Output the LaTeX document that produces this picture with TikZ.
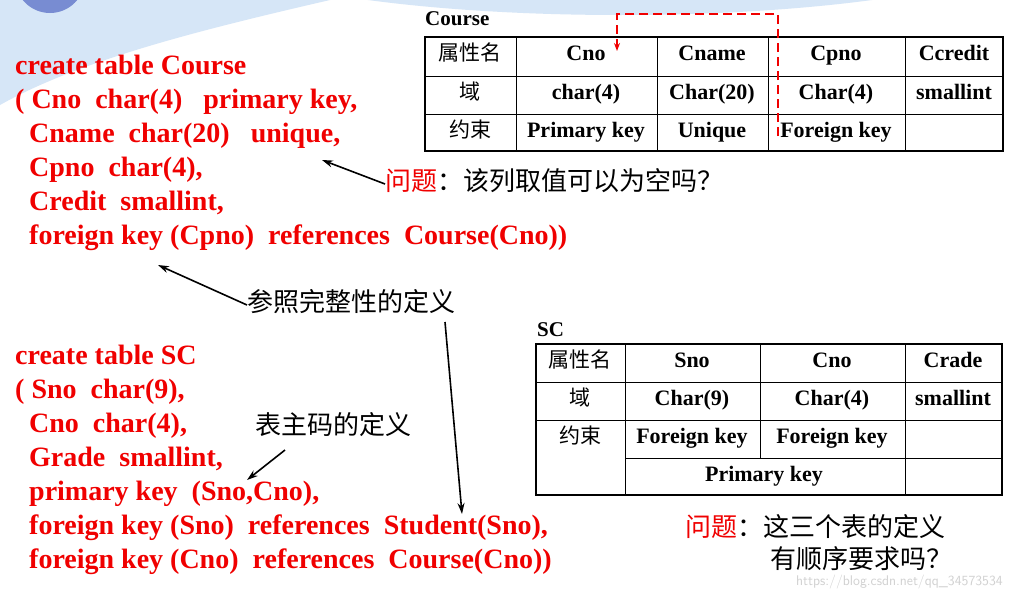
\documentclass[tikz,border=0pt]{standalone}
\usepackage{fontspec}
\setmainfont{Liberation Serif}
\newfontfamily\cjk{Noto Sans CJK SC}
\usetikzlibrary{arrows.meta}
\definecolor{sqlred}{RGB}{240,0,0}
\definecolor{bgblue}{RGB}{214,230,247}
\definecolor{ballblue}{RGB}{120,140,210}
\tikzset{
  sql/.style={anchor=west,text=sqlred,font=\fontsize{28}{28}\selectfont\bfseries,inner sep=0,text height=17pt,text depth=8pt},
  cell/.style={font=\fontsize{22}{22}\selectfont\bfseries,inner sep=0,text height=14pt,text depth=6pt},
  ccell/.style={font=\fontsize{21}{21}\selectfont\cjk,inner sep=0,text height=14pt,text depth=6pt},
  note/.style={anchor=west,font=\fontsize{26}{26}\selectfont\cjk,inner sep=0,text height=19pt,text depth=6pt},
  arr/.style={-{Stealth[length=11pt,width=7pt]},line width=1.6pt},
  thin/.style={line width=0.8pt},
  thick/.style={line width=2.2pt},
}
\begin{document}
\begin{tikzpicture}[x=1pt,y=-1pt]
\useasboundingbox (0,0) rectangle (1011,600);
\fill[white] (0,0) rectangle (1011,600);
% background decorations
\begin{scope}
\clip (0,0) rectangle (1011,600);
\fill[bgblue] (0,0) -- (330,0) .. controls (200,30) and (80,60) .. (0,105) -- cycle;
\fill[bgblue] (620,-60) ellipse [x radius=420, y radius=75];
\fill[white] (620,-75) ellipse [x radius=330, y radius=60];
\fill[ballblue] (50,-22) circle (35);
\end{scope}
% SQL texts
\node[sql] (c1) at (15,70) {create table Course};
\node[sql] (c2) at (15,104) {( Cno\ \ char(4)\ \ \ primary key,};
\node[sql] (c3) at (29,138) {Cname\ \ char(20)\ \ \ unique,};
\node[sql] (c4) at (29,172) {Cpno\ \ char(4),};
\node[sql] (c5) at (29,206) {Credit\ \ smallint,};
\node[sql] (c6) at (29,240) {foreign key (Cpno)\ \ references\ \ Course(Cno))};
\node[sql] (s1) at (15,360) {create table SC};
\node[sql] (s2) at (15,394) {( Sno\ \ char(9),};
\node[sql] (s3) at (29,428) {Cno\ \ char(4),};
\node[sql] (s4) at (29,462) {Grade\ \ smallint,};
\node[sql] (s5) at (29,496) {primary key\ \ (Sno,Cno),};
\node[sql] (s6) at (29,530) {foreign key (Sno)\ \ references\ \ Student(Sno),};
\node[sql] (s7) at (29,564) {foreign key (Cno)\ \ references\ \ Course(Cno))};
% Course table
\node[anchor=west,font=\fontsize{21}{21}\selectfont\bfseries,inner sep=0] (ct) at (425,19) {Course};
\draw[thin] (425,76) -- (1003,76) (425,114) -- (1003,114);
\foreach \x in {516,657,768,905} \draw[thin] (\x,37) -- (\x,151);
\draw[thick] (425,37) rectangle (1003,151);
\node[ccell] (h1) at (470,56) {属性名};
\node[cell] (h2) at (586,56) {Cno};
\node[cell] (h3) at (712,56) {Cname};
\node[cell] (h4) at (836,56) {Cpno};
\node[cell] (h5) at (954,56) {Ccredit};
\node[ccell] (d1) at (470,95) {域};
\node[cell] (d2) at (586,95) {char(4)};
\node[cell] (d3) at (712,95) {Char(20)};
\node[cell] (d4) at (836,95) {Char(4)};
\node[cell] (d5) at (954,95) {smallint};
\node[ccell] (k1) at (470,133) {约束};
\node[cell] (k2) at (586,133) {Primary key};
\node[cell] (k3) at (712,133) {Unique};
\node[cell] (k4) at (836,133) {Foreign key};
% dashed reference
\coordinate (fkstart) at (778,136);
\coordinate (pkend) at (617,51);
\draw[sqlred,line width=2pt,dash pattern=on 9pt off 5pt,-{Stealth[length=8pt,width=6pt]}]
  (fkstart) -- (778,14) -- (617,14) -- (pkend);
% SC table
\node[anchor=west,font=\fontsize{21}{21}\selectfont\bfseries,inner sep=0] (st) at (537,330) {SC};
\draw[thin] (536,382) -- (1002,382) (536,420) -- (1002,420) (625,458) -- (1002,458);
\draw[thin] (625,344) -- (625,495) (760,344) -- (760,458) (905,344) -- (905,495);
\draw[thick] (536,344) rectangle (1002,495);
\node[ccell] (sh1) at (580,363) {属性名};
\node[cell] (sh2) at (692,363) {Sno};
\node[cell] (sh3) at (832,363) {Cno};
\node[cell] (sh4) at (953,363) {Crade};
\node[ccell] (sd1) at (580,401) {域};
\node[cell] (sd2) at (692,401) {Char(9)};
\node[cell] (sd3) at (832,401) {Char(4)};
\node[cell] (sd4) at (953,401) {smallint};
\node[ccell] (sk1) at (580,439) {约束};
\node[cell] (sk2) at (692,439) {Foreign key};
\node[cell] (sk3) at (832,439) {Foreign key};
\node[cell] (sk4) at (764,477) {Primary key};
% notes
\node[note] (q1) at (385,184) {\textcolor{sqlred}{问题}：该列取值可以为空吗？};
\node[note] (ref) at (247,305) {参照完整性的定义};
\node[note] (pkdef) at (255,428) {表主码的定义};
\node[note] (q2) at (685,530) {\textcolor{sqlred}{问题}：这三个表的定义};
\node[note] (q3) at (770,562) {有顺序要求吗？};
\node[anchor=east,text=black!18,font=\fontsize{14}{14}\selectfont\sffamily,inner sep=0] (wm) at (1003,582) {https://blog.csdn.net/qq\_34573534};
% arrows
\coordinate (a1) at (322,160);
\coordinate (a2) at (158,265);
\coordinate (a3) at (462,514);
\coordinate (a4) at (247,480);
\coordinate (r2) at (445,322);
\coordinate (p2) at (285,450);
\draw[arr] (q1.west) -- (a1);
\draw[arr] (ref.west) -- (a2);
\draw[arr] (r2) -- (a3);
\draw[arr] (p2) -- (a4);
\end{tikzpicture}
\end{document}
